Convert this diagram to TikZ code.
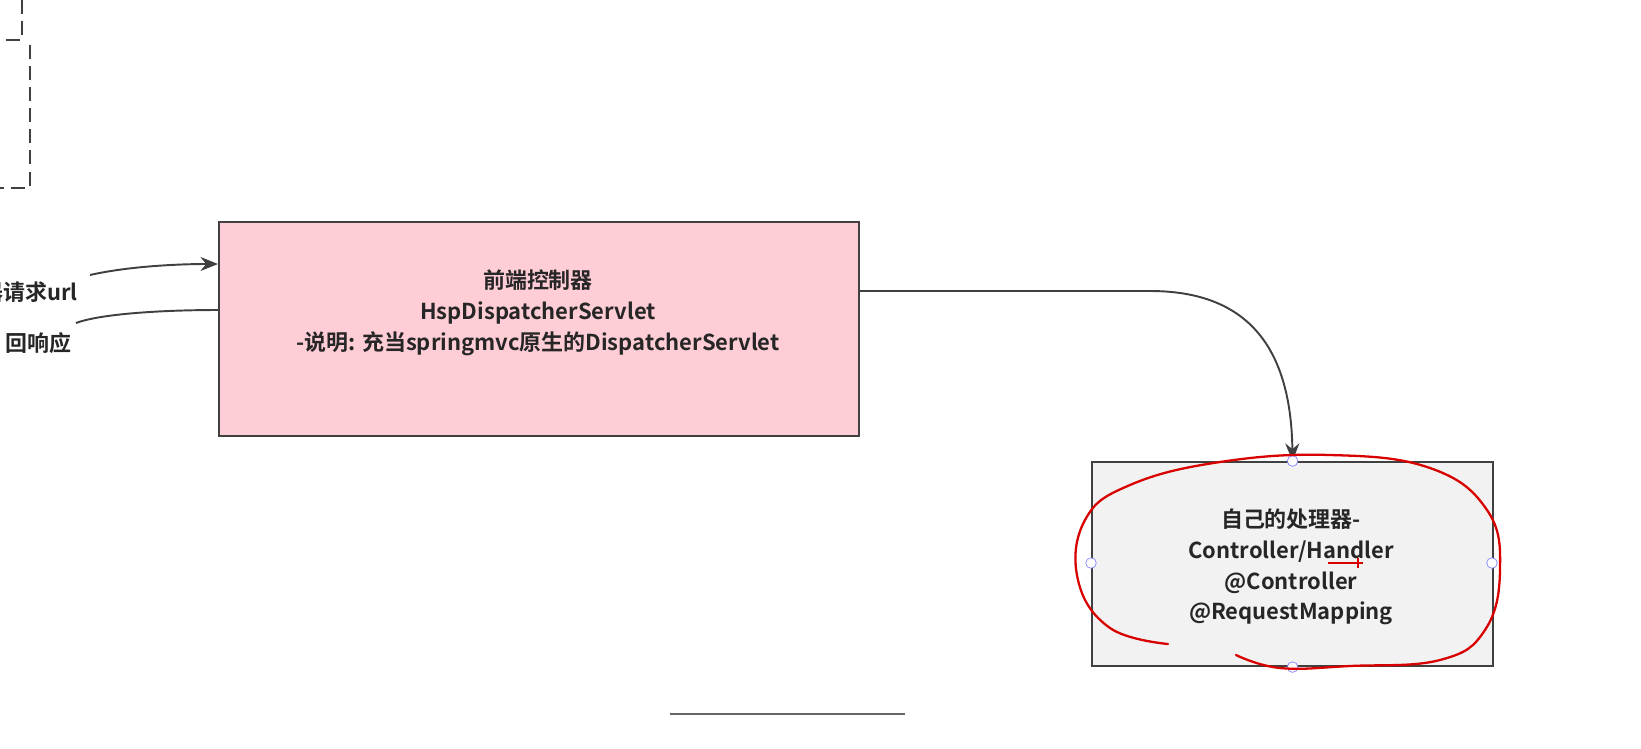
\documentclass[tikz,border=0pt]{standalone}
\usepackage{fontspec}
\setmainfont{Noto Sans CJK SC}[BoldFont={Noto Sans CJK SC Bold}]
\usetikzlibrary{arrows.meta}
\begin{document}
\begin{tikzpicture}[x=0.02cm,y=-0.02cm,
  boxs/.style={draw=black!75,line width=1.2pt,anchor=north west,inner sep=0},
  lbl/.style={font=\bfseries\fontsize{12.5}{17.5}\selectfont,align=center,text=black!85},
  con/.style={draw=black!75,line width=1.1pt},
  handle/.style={circle,draw=blue!50,fill=white,inner sep=0,minimum size=6pt}]
\useasboundingbox (0,0) rectangle (1641,748);
% dashed partial box
\draw[dash pattern=on 8pt off 4pt,line width=1.2pt,black!75] (22,0)--(22,40)--(0,40) (30,45)--(30,188)--(0,188);
% pink box
\node[boxs,fill={rgb,255:red,255;green,205;blue,214},minimum width=640*0.02cm,minimum height=214*0.02cm] (fc) at (218,221) {};
\node[lbl] (fct) at (538,313) {前端控制器\\HspDispatcherServlet\\-说明: 充当springmvc原生的DispatcherServlet};
% right box
\node[boxs,fill={rgb,255:red,242;green,242;blue,242},minimum width=401*0.02cm,minimum height=204*0.02cm] (hd) at (1091,461) {};
\node[lbl] (hdt) at (1291,567) {自己的处理器-\\Controller/Handler\\@Controller\\@RequestMapping};
% left labels
\node[lbl,anchor=east] (req) at (84,292) {器请求url};
\node[lbl,anchor=east] (resp) at (78,343) {回响应};
\coordinate (a1) at (90,275);
\coordinate (b1) at (76,323);
\draw[con,-{Stealth[length=10pt,width=8pt]}] (a1) .. controls (130,266) and (180,264) .. (fc.north west |- 0,264);
\draw[con] (fc.north west |- 0,310) .. controls (160,310) and (100,314) .. (b1);
% connector
\draw[con,-{Stealth[length=10pt,width=8pt]}] (fc.north east |- 0,291) -- (1150,291) .. controls (1250,291) and (1291,350) .. (hd.north);
% handles
\node[handle] (h1) at (hd.north) {};
\node[handle] (h2) at (1091,563) {};
\node[handle] (h3) at (1492,563) {};
\node[handle] (h4) at (hd.south) {};
% red loop
\draw[red!85!black,line width=1.3pt,line cap=round] plot[smooth,tension=0.7] coordinates {(1168,644) (1110,628) (1078,580) (1085,520) (1130,485) (1220,462) (1330,455) (1430,468) (1487,510) (1500,570) (1485,630) (1440,660) (1350,666) (1280,668) (1236,655)};
\draw[red!85!black,line width=1.2pt] (1328,563)--(1355,563) (1358,558)--(1358,568) (1353,563)--(1363,563);
% bottom line
\draw[black!60,line width=1pt] (670,714)--(905,714);
\end{tikzpicture}
\end{document}
